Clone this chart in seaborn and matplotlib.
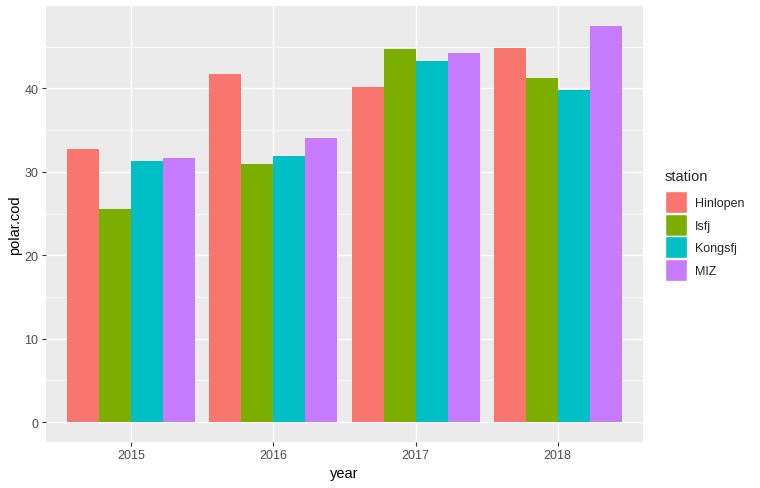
import numpy as np
import pandas as pd
import matplotlib
matplotlib.use("Agg")
import matplotlib.pyplot as plt
import seaborn as sns
from matplotlib.patches import Patch

years = ["2015", "2016", "2017", "2018"]
stations = ["Hinlopen", "Isfj", "Kongsfj", "MIZ"]
hinlopen = [32.7, 41.7, 40.2, 44.8]
isfj = [25.6, 30.9, 44.7, 41.2]
kongsfj = [31.3, 31.9, 43.3, 39.8]
miz = [31.6, 34.05, 44.2, 47.5]
colors = ["#F8766D", "#7CAE00", "#00BFC4", "#C77CFF"]

rows = []
for st, vals in zip(stations, [hinlopen, isfj, kongsfj, miz]):
    for y, v in zip(years, vals):
        rows.append({"year": y, "station": st, "polar.cod": v})
df = pd.DataFrame(rows)

sns.set_theme(style="white")
plt.rcParams["font.family"] = ["Liberation Sans", "DejaVu Sans"]

fig = plt.figure(figsize=(7.6, 4.89), dpi=100)
ax = fig.add_axes([46/760, 1-443/489, (643-46)/760, (443-7)/489])
ax.set_facecolor("#EBEBEB")

sns.barplot(data=df, x="year", y="polar.cod", hue="station", order=years,
            hue_order=stations, palette=colors, width=0.9, gap=0,
            saturation=1, errorbar=None, ax=ax, legend=False, linewidth=0,
            zorder=3)

ymax = max(max(hinlopen), max(isfj), max(kongsfj), max(miz))
ax.set_ylim(-0.05*ymax, 1.05*ymax)
ax.set_xlim(-0.6, 3.6)

ax.set_yticks([0, 10, 20, 30, 40])
ax.set_yticks([5, 15, 25, 35, 45], minor=True)
ax.grid(which="major", color="white", linewidth=1.07, zorder=1)
ax.grid(which="minor", axis="y", color="white", linewidth=0.53, zorder=1)
ax.set_axisbelow(True)
for s in ax.spines.values():
    s.set_visible(False)

ax.tick_params(axis="both", which="major", length=2.9, width=0.8,
               color="#333333", labelcolor="#4D4D4D", labelsize=9.0, pad=2.5,
               left=True, bottom=True)
ax.tick_params(axis="both", which="minor", length=0)
ax.set_xlabel("year", fontsize=10.5, color="black", labelpad=3)
ax.set_ylabel("polar.cod", fontsize=10.5, color="black", labelpad=2)

handles = [Patch(facecolor=c, edgecolor="white", linewidth=1.0) for c in colors]
leg = fig.legend(handles, stations, title="station", loc="upper left",
                 bbox_to_anchor=(661/760, 1-166/489), frameon=False,
                 fontsize=9.0, title_fontsize=10.5, handlelength=1.76,
                 handleheight=2.35, labelspacing=0.03, handletextpad=0.62,
                 borderaxespad=0, borderpad=0.3)
leg._legend_box.align = "left"
leg._legend_box.sep = 6

fig.savefig("out.png", dpi=100)
